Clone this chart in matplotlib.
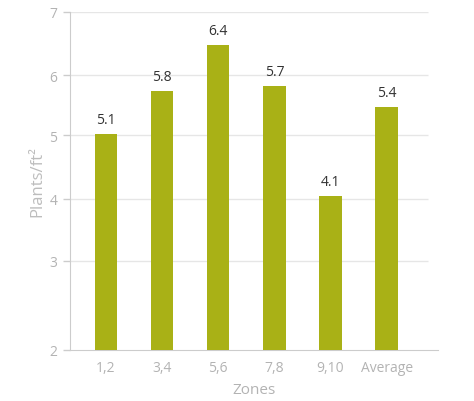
import numpy as np
import matplotlib
matplotlib.use("Agg")
import matplotlib.pyplot as plt

zones = ["1,2", "3,4", "5,6", "7,8", "9,10", "Average"]
bar_heights = [5.02, 5.74, 6.47, 5.81, 4.05, 5.47]
value_labels = ["5.1", "5.8", "6.4", "5.7", "4.1", "5.4"]
y_ticks = [2, 3, 4, 5, 6, 7]
# axis spacing of the reference (uneven: the 2-3 step is stretched)
y_tick_positions = [0, 89, 151, 215, 275, 338]

plt.rcParams['font.family'] = ['Open Sans', 'DejaVu Sans']

fig = plt.figure(figsize=(4.74, 4.02), dpi=100)
ax = fig.add_axes([70/474, 1-351/402, (438-70)/474, (351-13)/402])

fwd = lambda v: np.interp(v, y_ticks, y_tick_positions, left=-1e3, right=1e3)
inv = lambda p: np.interp(p, y_tick_positions, y_ticks)
ax.set_yscale('function', functions=(fwd, inv))
ax.set_ylim(2, 7)
ax.set_xlim(-0.641, 5.914)

bar_color = "#a9b116"
x = np.arange(len(zones))
bars = ax.bar(x, bar_heights, width=0.4, color=bar_color, zorder=3)

ax.hlines(y_ticks[1:], -0.641, 5.736, color="#e6e6e6", lw=1, zorder=1)

for xi, h, lab in zip(x, bar_heights, value_labels):
    ax.annotate(lab, (xi, h), xytext=(0, 5), textcoords="offset points",
                ha="center", va="bottom", fontsize=10, color="#333333")

ax.set_xticks(x)
ax.set_xticklabels(zones)
ax.set_yticks(y_ticks)
ax.set_yticklabels([str(t) for t in y_ticks])

for s in ["top", "right"]:
    ax.spines[s].set_visible(False)
ax.spines["left"].set_color("#cccccc")
ax.spines["bottom"].set_color("#cccccc")
ax.tick_params(axis="x", length=0, pad=7, labelsize=10, labelcolor="#b3b3b3")
ax.tick_params(axis="y", length=5, width=1, color="#cccccc", pad=4,
               labelsize=10, labelcolor="#b3b3b3")

ax.set_xlabel("Zones", fontsize=11, color="#b3b3b3", labelpad=5)
ax.set_ylabel("Plants/ft²", fontsize=12, color="#bdbdbd", labelpad=3)

fig.savefig("out.png", dpi=100)
